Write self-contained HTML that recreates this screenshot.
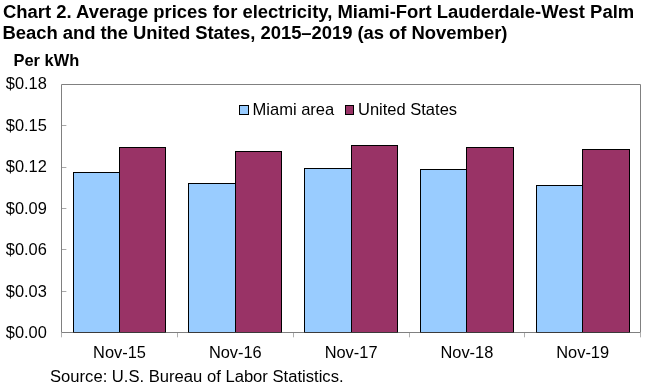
<!DOCTYPE html>
<html><head><meta charset="utf-8">
<style>
html,body{margin:0;padding:0;background:#fff;width:648px;height:391px;overflow:hidden}
svg{display:block;will-change:transform}
text{font-family:"Liberation Sans",sans-serif;fill:#000}
.b{font-weight:bold}
</style></head>
<body>
<svg width="648" height="391" viewBox="0 0 648 391">
<rect x="0" y="0" width="648" height="391" fill="#fff"/>
<!-- title -->
<text class="b" x="3" y="17.5" font-size="18.45">Chart 2. Average prices for electricity, Miami-Fort Lauderdale-West Palm</text>
<text class="b" x="2.5" y="38.5" font-size="18.45" textLength="505" lengthAdjust="spacing">Beach and the United States, 2015–2019 (as of November)</text>
<text class="b" x="13.5" y="65.5" font-size="16.45">Per kWh</text>
<!-- y labels -->
<g font-size="16.4" text-anchor="end">
<text x="46.8" y="88.9">$0.18</text>
<text x="46.8" y="131.3">$0.15</text>
<text x="46.8" y="172.1">$0.12</text>
<text x="46.8" y="214.0">$0.09</text>
<text x="46.8" y="254.9">$0.06</text>
<text x="46.8" y="297.0">$0.03</text>
<text x="46.8" y="337.9">$0.00</text>
</g>
<!-- plot frame -->
<g stroke="#808080" stroke-width="1" fill="none">
<path d="M61.5 332.5V84.5H640.5V332.5"/>

</g>
<!-- bars -->
<g stroke="#000" stroke-width="1">
<rect x="73.5" y="172.5" width="46" height="160" fill="#99ccff"/>
<rect x="119.5" y="147.5" width="46" height="185" fill="#993366"/>
<rect x="188.5" y="183.5" width="47" height="149" fill="#99ccff"/>
<rect x="235.5" y="151.5" width="46" height="181" fill="#993366"/>
<rect x="304.5" y="168.5" width="47" height="164" fill="#99ccff"/>
<rect x="351.5" y="145.5" width="46" height="187" fill="#993366"/>
<rect x="420.5" y="169.5" width="46" height="163" fill="#99ccff"/>
<rect x="466.5" y="147.5" width="47" height="185" fill="#993366"/>
<rect x="536.5" y="185.5" width="46" height="147" fill="#99ccff"/>
<rect x="582.5" y="149.5" width="47" height="183" fill="#993366"/>
</g>
<!-- x axis -->
<g stroke="#808080" stroke-width="1" fill="none">
<path d="M61.5 332.5H640.5"/>

</g>
<g shape-rendering="crispEdges"><rect x="62" y="125" width="4" height="1" fill="#a8a8a8"/><rect x="66" y="125" width="1" height="1" fill="#e0e0e0"/><rect x="62" y="167" width="4" height="1" fill="#a8a8a8"/><rect x="66" y="167" width="1" height="1" fill="#e0e0e0"/><rect x="62" y="208" width="4" height="1" fill="#a8a8a8"/><rect x="66" y="208" width="1" height="1" fill="#e0e0e0"/><rect x="62" y="249" width="4" height="1" fill="#a8a8a8"/><rect x="66" y="249" width="1" height="1" fill="#e0e0e0"/><rect x="62" y="291" width="4" height="1" fill="#a8a8a8"/><rect x="66" y="291" width="1" height="1" fill="#e0e0e0"/><rect x="61" y="333" width="1" height="4" fill="#b0b0b0"/><rect x="61" y="337" width="1" height="1" fill="#e6e6e6"/><rect x="177" y="333" width="1" height="4" fill="#b0b0b0"/><rect x="177" y="337" width="1" height="1" fill="#e6e6e6"/><rect x="293" y="333" width="1" height="4" fill="#b0b0b0"/><rect x="293" y="337" width="1" height="1" fill="#e6e6e6"/><rect x="409" y="333" width="1" height="4" fill="#b0b0b0"/><rect x="409" y="337" width="1" height="1" fill="#e6e6e6"/><rect x="524" y="333" width="1" height="4" fill="#b0b0b0"/><rect x="524" y="337" width="1" height="1" fill="#e6e6e6"/><rect x="640" y="333" width="1" height="4" fill="#b0b0b0"/><rect x="640" y="337" width="1" height="1" fill="#e6e6e6"/><rect x="73" y="332" width="93" height="1" fill="#3a3a3a"/><rect x="188" y="332" width="94" height="1" fill="#3a3a3a"/><rect x="304" y="332" width="94" height="1" fill="#3a3a3a"/><rect x="420" y="332" width="94" height="1" fill="#3a3a3a"/><rect x="536" y="332" width="94" height="1" fill="#3a3a3a"/></g>
<!-- legend -->
<rect x="239.5" y="105.5" width="9" height="9" fill="#99ccff" stroke="#000"/>
<text x="252.5" y="114.7" font-size="16.55">Miami area</text>
<rect x="345.5" y="105.5" width="8" height="9" fill="#993366" stroke="#000"/>
<text x="358" y="114.7" font-size="16.5">United States</text>
<!-- x labels -->
<g font-size="16.4" text-anchor="middle">
<text x="119.5" y="357.6">Nov-15</text>
<text x="235.3" y="357.6">Nov-16</text>
<text x="351.1" y="357.6">Nov-17</text>
<text x="466.9" y="357.6">Nov-18</text>
<text x="582.7" y="357.6">Nov-19</text>
</g>
<text x="50" y="381.9" font-size="16.63">Source: U.S. Bureau of Labor Statistics.</text>
</svg>
</body></html>
